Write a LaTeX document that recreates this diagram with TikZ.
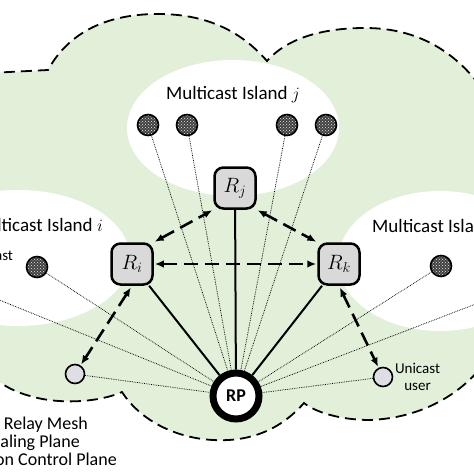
\documentclass[tikz,border=0pt]{standalone}
\usepackage{fontspec}
\setmainfont{Carlito}
\usepackage{xcolor}
\definecolor{cloud-fill}{HTML}{E2F0D9}
\definecolor{relay-fill}{HTML}{D9D9D9}
\definecolor{user-fill}{HTML}{DEDEE4}
\usepackage{tikz}
\usetikzlibrary{
  arrows.meta,
  positioning,
  patterns
}

\begin{document}
\begin{tikzpicture}[
    x=1pt, y=-1pt,
    relay/.style={
      rectangle,
      draw,
      line width=2.5pt,
      fill=relay-fill,
      rounded corners=9pt,
      minimum size=41pt,
      inner sep=0pt,
      font=\fontsize{20}{22}\selectfont
    },
    mhost/.style={
      circle,
      draw,
      line width=1.6pt,
      minimum size=21pt,
      inner sep=0pt,
      preaction={fill=black!75},
      pattern=crosshatch dots,
      pattern color=white!85!gray
    },
    uuser/.style={
      circle,
      draw,
      line width=1.6pt,
      minimum size=19pt,
      inner sep=0pt,
      fill=user-fill
    },
    rpnode/.style={
      circle,
      draw,
      line width=7pt,
      fill=white,
      minimum size=46pt,
      inner sep=0pt,
      font=\fontsize{18}{20}\selectfont\bfseries
    },
    cloud/.style={
      fill=cloud-fill,
      draw,
      line width=1.8pt,
      dash pattern=on 11pt off 6pt
    },
    islandtxt/.style={
      font=\fontsize{19}{19}\selectfont,
      inner sep=0pt
    },
    legendtxt/.style={
      font=\fontsize{18}{18}\selectfont,
      inner sep=0pt
    },
    usertxt/.style={
      font=\fontsize{15}{17}\selectfont,
      align=center,
      inner sep=0pt
    },
    meshline/.style={
      line width=2pt
    },
    signal/.style={
      {Latex[length=9pt,width=7.5pt]}-{Latex[length=9pt,width=7.5pt]},
      line width=2.6pt,
      dash pattern=on 14pt off 7pt
    },
    ctrl/.style={
      densely dotted,
      line width=0.75pt
    }
  ]
    \path[use as bounding box, clip] (0,0) rectangle (474,474);

    % ---- Green cloud with the islands ----
    \path[cloud] (-30,74) -- (48,70)
      .. controls (70,30) and (110,14) .. (158,14)
      .. controls (205,14) and (240,30) .. (267,61)
      .. controls (290,35) and (330,28) .. (365,28)
      .. controls (410,28) and (455,45) .. (490,100)
      -- (500,340)
      .. controls (470,395) and (420,418) .. (370,420)
      .. controls (340,420) and (315,412) .. (304,403)
      .. controls (280,430) and (250,442) .. (213,440)
      .. controls (175,438) and (140,420) .. (122,392)
      .. controls (100,402) and (60,405) .. (30,396)
      .. controls (0,388) and (-20,370) .. (-30,340)
      -- cycle;
    \fill[white] (233,128) ellipse [x radius=106pt, y radius=68pt];
    \fill[white] (18,258) ellipse [x radius=112pt, y radius=68pt];
    \fill[white] (440,261) ellipse [x radius=102pt, y radius=70pt];

    % ---- Island labels ----
    \node[islandtxt, anchor=base] (tj) at (233,99) {Multicast Island $j$};
    \node[islandtxt, anchor=base east] (ti) at (103,231) {Multicast Island $i$};
    \node[islandtxt, anchor=base west] (tk) at (372,232) {Multicast Island $k$};

    % ---- Relays and RP ----
    \node[relay] (rj) at (235,188) {$R_j$};
    \node[relay] (ri) at (132,264) {$R_i$};
    \node[relay] (rk) at (339,264) {$R_k$};
    \node[rpnode] (rp) at (236,396) {RP};

    % ---- Multicast hosts ----
    \node[mhost] (hj1) at (148,125) {};
    \node[mhost] (hj2) at (187,125) {};
    \node[mhost] (hj3) at (287,125) {};
    \node[mhost] (hj4) at (326,125) {};
    \node[mhost] (hi1) at (37,267) {};
    \node[mhost] (hk1) at (441,266) {};
    \coordinate (hi2) at (-45,282);
    \coordinate (hk2) at (520,287);

    % ---- Unicast users ----
    \node[uuser] (uleft) at (75,374) {};
    \node[uuser] (uright) at (383,377) {};
    \node[usertxt, right=1.5pt of uright] (tuni) {Unicast\\user};
    \node[usertxt, left=12.5pt of hi1, yshift=3pt] (tmulti) {Multicast\\user};

    % ---- Control plane ----
    \foreach \h in {hj1,hj2,hj3,hj4,hi1,hk1,hi2,hk2,uleft,uright}
      \draw[ctrl] (\h) -- (rp);

    % ---- Relay mesh ----
    \draw[meshline] (ri) -- (rp);
    \draw[meshline] (rj) -- (rp);
    \draw[meshline] (rk) -- (rp);

    % ---- Signaling plane ----
    \draw[signal, shorten <=1pt, shorten >=1pt] (ri.45) -- (rj.225);
    \draw[signal, shorten <=1pt, shorten >=1pt] (rj.-45) -- (rk.135);
    \draw[signal, shorten <=1pt, shorten >=1pt] (ri) -- (rk);
    \draw[signal, shorten <=2pt, shorten >=1pt] (ri.south) -- (uleft);
    \draw[signal, shorten <=2pt, shorten >=1pt] (rk.south) -- (uright);

    % ---- Legend text ----
    \node[legendtxt, anchor=base east] (lmesh) at (88,429) {Relay Mesh};
    \node[legendtxt, anchor=base east] (lsig) at (80,447) {Signaling Plane};
    \node[legendtxt, anchor=base east] (lctrl) at (117,465) {Session Control Plane};
  \end{tikzpicture}
\end{document}
